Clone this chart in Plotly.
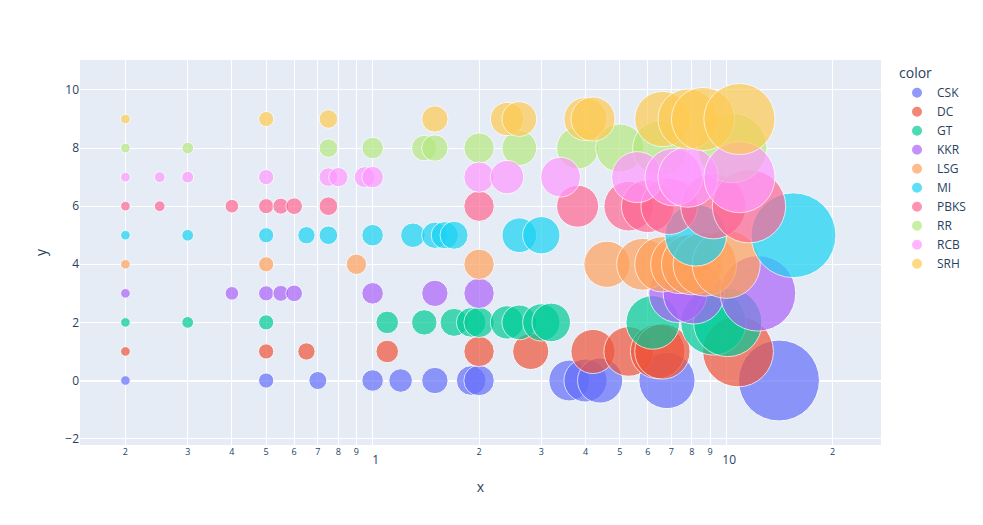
import plotly.express as px

teams = ["CSK", "DC", "GT", "KKR", "LSG", "MI", "PBKS", "RR", "RCB", "SRH"]
team_codes = [0, 1, 2, 3, 4, 5, 6, 8, 7, 9]

csk_x = [0.2, 0.5, 0.7, 1.0, 1.2, 1.5, 1.9, 2.0, 3.6, 4.0, 4.4, 6.8, 14.1]
dc_x = [0.2, 0.5, 0.65, 1.1, 2.0, 2.8, 4.2, 5.3, 6.4, 6.6, 10.8]
gt_x = [0.2, 0.3, 0.5, 1.1, 1.4, 1.7, 1.9, 2.0, 2.4, 2.6, 3.0, 3.2, 6.2, 9.2, 10.1]
kkr_x = [0.2, 0.4, 0.5, 0.55, 0.6, 1.0, 1.5, 2.0, 7.3, 8.1, 12.3]
lsg_x = [0.2, 0.5, 0.9, 2.0, 4.6, 5.8, 6.6, 7.4, 8.0, 8.7, 10.0]
mi_x = [0.2, 0.3, 0.5, 0.65, 0.75, 1.0, 1.3, 1.5, 1.6, 1.7, 2.6, 3.0, 8.2, 15.5]
pbks_x = [0.2, 0.25, 0.4, 0.5, 0.55, 0.6, 0.75, 2.0, 3.8, 5.3, 6.0, 6.9, 9.2, 11.6]
rr_x = [0.2, 0.3, 0.75, 1.0, 1.4, 1.5, 2.0, 2.6, 3.8, 5.0, 6.5, 10.4]
rcb_x = [0.2, 0.25, 0.3, 0.5, 0.75, 0.8, 0.95, 1.0, 2.0, 2.4, 3.4, 5.6, 7.1, 7.8, 10.9]
srh_x = [0.2, 0.5, 0.75, 1.5, 2.4, 2.6, 4.0, 4.2, 6.6, 7.8, 8.6, 10.9]

team_values = [csk_x, dc_x, gt_x, kkr_x, lsg_x, mi_x, pbks_x, rr_x, rcb_x, srh_x]

xs, ys, colors = [], [], []
for team, code, vals in zip(teams, team_codes, team_values):
    for v in vals:
        xs.append(v)
        ys.append(code)
        colors.append(team)

fig = px.scatter(x=xs, y=ys, color=colors, size=xs, log_x=True, size_max=60)
fig.update_layout(width=983, height=525)
fig.write_html("out.html")
